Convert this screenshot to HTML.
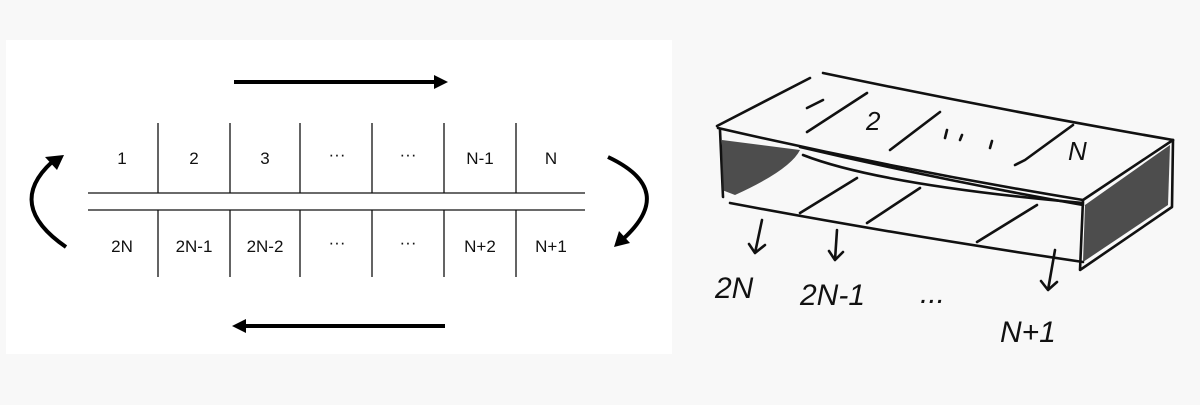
<!DOCTYPE html>
<html><head><meta charset="utf-8"><style>
html,body{margin:0;padding:0;background:#f8f8f8;}
svg{display:block}
</style></head><body>
<svg width="1200" height="405" viewBox="0 0 1200 405" xmlns="http://www.w3.org/2000/svg">
<rect x="0" y="0" width="1200" height="405" fill="#f8f8f8"/>
<rect x="6" y="40" width="666" height="314" fill="#fff"/>
<g stroke="#111" stroke-width="1.3" fill="none">
<line x1="88" y1="193" x2="585" y2="193"/>
<line x1="88" y1="210" x2="585" y2="210"/>
<g>
<line x1="158" y1="123" x2="158" y2="193"/><line x1="230" y1="123" x2="230" y2="193"/>
<line x1="300" y1="123" x2="300" y2="193"/><line x1="372" y1="123" x2="372" y2="193"/>
<line x1="444" y1="123" x2="444" y2="193"/><line x1="516" y1="123" x2="516" y2="193"/>
<line x1="158" y1="210" x2="158" y2="277"/><line x1="230" y1="210" x2="230" y2="277"/>
<line x1="300" y1="210" x2="300" y2="277"/><line x1="372" y1="210" x2="372" y2="277"/>
<line x1="444" y1="210" x2="444" y2="277"/><line x1="516" y1="210" x2="516" y2="277"/>
</g>
</g>
<g font-family="Liberation Sans, sans-serif" font-size="17" fill="#111" text-anchor="middle">
<text x="122" y="164">1</text><text x="194" y="164">2</text><text x="265" y="164">3</text>
<text x="337" y="160">···</text><text x="408" y="160">···</text><text x="480" y="164">N-1</text><text x="551" y="164">N</text>
<text x="122" y="252">2N</text><text x="194" y="252">2N-1</text><text x="265" y="252">2N-2</text>
<text x="337" y="248">···</text><text x="408" y="248">···</text><text x="480" y="252">N+2</text><text x="551" y="252">N+1</text>
</g>
<g stroke="#000" stroke-width="4" fill="none">
<line x1="234" y1="82" x2="436" y2="82"/>
<line x1="244" y1="326" x2="445" y2="326"/>
<path d="M66 247 Q5 205 52 162"/>
<path d="M608 157 Q678 190 622 240"/>
</g>
<g fill="#000">
<polygon points="64,155 45,157 57,170"/>
<polygon points="614,247 630,243 619,231"/>
<polygon points="448,82 434,75 434,89"/>
<polygon points="232,326 246,319 246,333"/>
</g>
<!-- sketch -->
<g stroke="#111" stroke-width="2.6" fill="none" stroke-linecap="round" stroke-linejoin="round">
<path d="M717 126 L810 78"/>
<path d="M823 73 Q1000 110 1173 140"/>
<path d="M718 128 Q900 170 1083 200 L1173 140"/>
<path d="M720 130 L723 197"/>
<path d="M800 147 Q940 180 1083 205"/>
<path d="M803 155 Q880 185 1083 203"/>
<path d="M730 203 Q900 235 1083 262"/>
<path d="M1083 200 L1080 270 L1172 207 L1173 140"/>
<path d="M807 108 L823 100"/><path d="M807 132 L867 93"/>
<path d="M890 150 L940 112"/><path d="M1015 165 L1025 160 L1073 125"/>
<path d="M945 138 L947 130"/><path d="M960 140 L962 135"/><path d="M990 148 L992 141"/>
<path d="M800 213 L857 178"/><path d="M867 223 L920 188"/><path d="M977 242 L1037 205"/>
<path d="M762 220 L755 253 M749 244 L755 253 L765 245"/>
<path d="M837 230 L835 260 M829 251 L835 260 L843 252"/>
<path d="M1055 250 L1048 290 M1041 281 L1048 290 L1057 282"/>
</g>
<g fill="#222">
<path d="M722 140 L800 150 Q790 170 735 195 L722 190 Z" opacity="0.8"/>
<path d="M1085 205 L1170 145 L1168 205 L1083 262 Z" opacity="0.8"/>
</g>
<g font-family="Liberation Sans, sans-serif" font-style="italic" font-size="30" fill="#111">
<text x="866" y="130" font-size="26">2</text>
<text x="1068" y="160" font-size="26">N</text>
<text x="715" y="298">2N</text>
<text x="800" y="305">2N-1</text>
<text x="920" y="303">...</text>
<text x="1000" y="342">N+1</text>
</g>
</svg>
</body></html>
